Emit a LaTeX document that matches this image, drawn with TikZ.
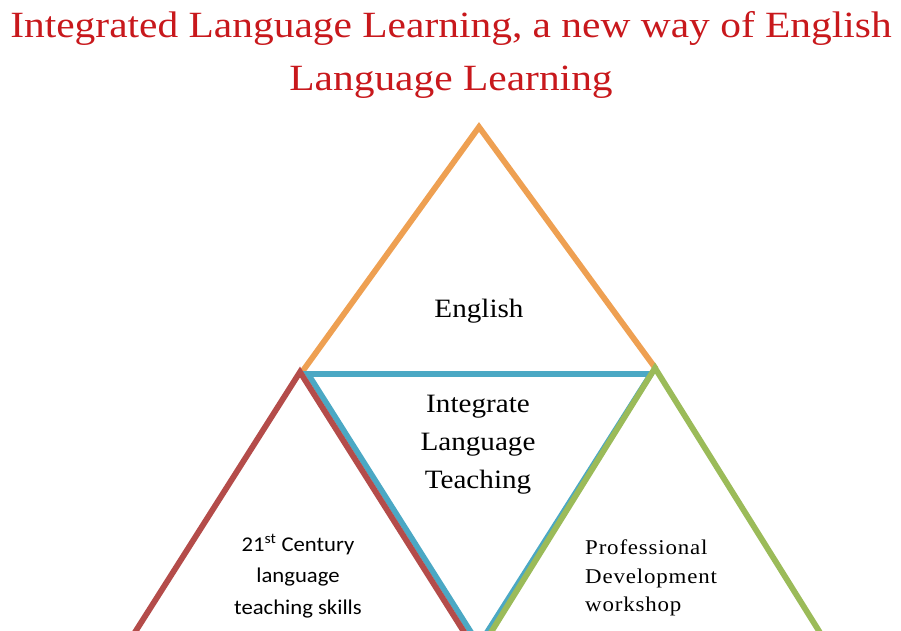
\documentclass[tikz,border=0pt]{standalone}
\usepackage{fontspec}
\setmainfont{Liberation Serif}
\newfontfamily\calfont{Carlito}
\usetikzlibrary{positioning}
\definecolor{titlered}{RGB}{200,24,28}
\definecolor{triorange}{RGB}{238,160,82}
\definecolor{triblue}{RGB}{75,168,196}
\definecolor{trired}{RGB}{180,76,74}
\definecolor{trigreen}{RGB}{155,187,89}

\begin{document}
\begin{tikzpicture}[
                x=1pt, y=-1pt,
                side/.style={line width=5.8pt, line join=miter, line cap=butt},
                ttl/.style={text=titlered, font=\addfontfeatures{FakeStretch=1.12}\fontsize{37}{53}\selectfont, align=center, inner sep=0pt},
                lbl/.style={font=\addfontfeatures{FakeStretch=1.1}\fontsize{26.5}{38}\selectfont, align=center, inner sep=0pt},
                cal/.style={font=\calfont\addfontfeatures{FakeStretch=1.08}\fontsize{21}{31.5}\selectfont, align=center, inner sep=0pt},
                pdw/.style={font=\addfontfeatures{LetterSpace=4,FakeStretch=1.09}\fontsize{21}{28.5}\selectfont, align=left, inner sep=0pt},
            ]
            \useasboundingbox (0,0) rectangle (901,630);
            \clip (0,0) rectangle (901,630);

            % === Title ===
            \node[ttl] (title) at (451,55) {Integrated Language Learning, a new way of English\\Language Learning};

            % === corner points ===
            \coordinate (Otop) at (479,127);
            \coordinate (Oleft) at (302,372);
            \coordinate (Oright) at (656,369);
            \coordinate (Rtop) at (300,372);
            \coordinate (Rleft) at (92,700);
            \coordinate (Rright) at (507,700);
            \coordinate (Gtop) at (655,368);
            \coordinate (Gleft) at (449,700);
            \coordinate (Gright) at (862,700);
            \coordinate (Bleft) at (308,374);
            \coordinate (Bright) at (651,374);
            \coordinate (Bbot) at (479,645);

            % === Triangles ===
            \draw[side, triorange] (Oleft) -- (Otop) -- (Oright);
            \draw[side, triblue] (Bbot) -- (Bleft) -- (Bright) -- cycle;
            \draw[side, trired] (Rleft) -- (Rtop) -- (Rright);
            \draw[side, trigreen] (Gleft) -- (Gtop) -- (Gright);

            % === Labels ===
            \node[lbl] (eng) at (479,311) {English};
            \node[lbl] (ilt) at (478,445) {Integrate\\Language\\Teaching};
            \node[cal] (cent) at (298,576) {21\textsuperscript{st} Century\\language\\teaching skills};
            \node[pdw, anchor=west] (prof) at (585,578) {Professional\\Development\\workshop};
\end{tikzpicture}
\end{document}
